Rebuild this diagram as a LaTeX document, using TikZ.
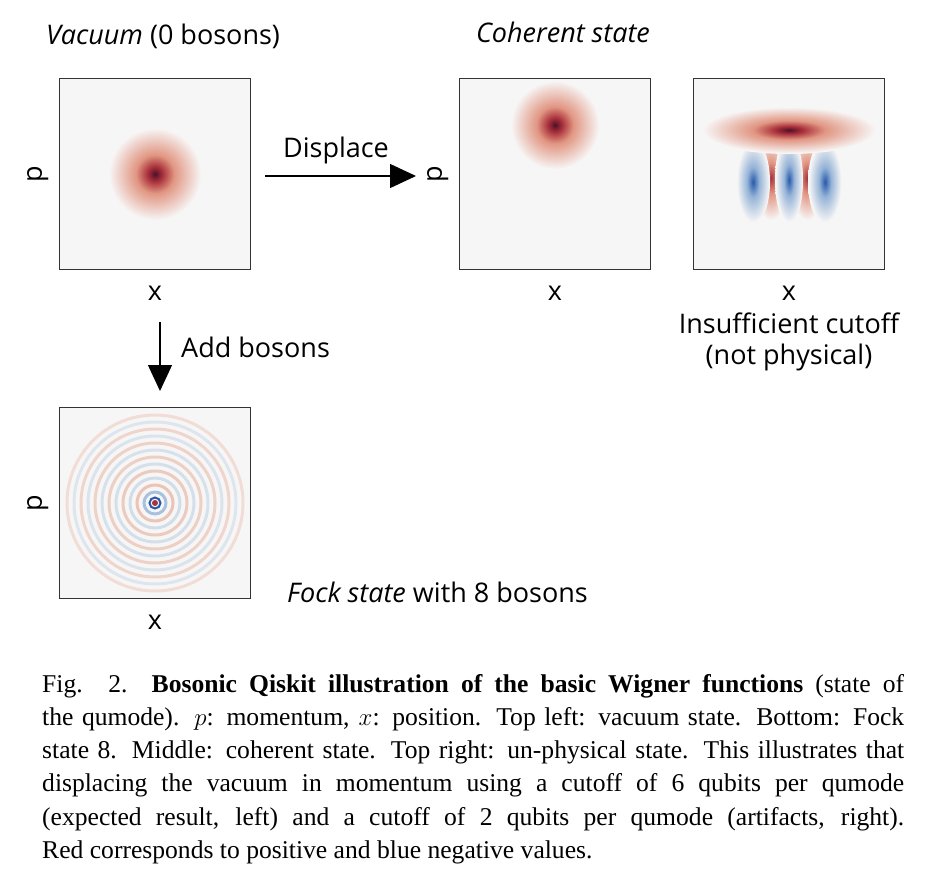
\documentclass[tikz,border=0pt]{standalone}
\usepackage{fontspec}
\setmainfont{Open Sans}
\newfontfamily\capfont{Liberation Serif}
\usetikzlibrary{arrows.meta}
\definecolor{dk}{RGB}{80,15,40}
\definecolor{rd}{RGB}{170,50,60}
\definecolor{pk}{RGB}{225,150,130}
\definecolor{bgc}{RGB}{247,246,246}
\definecolor{bl}{RGB}{40,90,170}
\definecolor{lbl}{RGB}{150,180,215}
\definecolor{lrd}{RGB}{230,175,155}
\definecolor{llbl}{RGB}{185,205,225}
\pgfdeclareradialshading{gauss}{\pgfpoint{0bp}{0bp}}{color(0bp)=(dk); color(4bp)=(rd); color(10bp)=(pk); color(24bp)=(bgc); color(50bp)=(bgc)}
\pgfdeclareradialshading{bgauss}{\pgfpoint{0bp}{0bp}}{color(0bp)=(bl); color(9bp)=(lbl); color(24bp)=(bgc); color(50bp)=(bgc)}
\pgfdeclareradialshading{rgauss}{\pgfpoint{0bp}{0bp}}{color(0bp)=(rd); color(9bp)=(pk); color(24bp)=(bgc); color(50bp)=(bgc)}
\tikzset{
  panel/.style={fill=bgc, minimum width=190pt, minimum height=190pt, inner sep=0pt},
  frame/.style={draw=black!80, line width=0.8pt},
  lab/.style={font=\fontsize{27}{32}\selectfont, inner sep=0pt},
  arr/.style={line width=1.3pt, -{Triangle[length=26pt,width=24pt]}}
}
\begin{document}
\begin{tikzpicture}[x=1pt,y=-1pt]
\useasboundingbox[fill=white] (0,0) rectangle (930,884);
\node[panel] (P1) at (155,174) {};
\node[panel] (P2) at (555,174) {};
\node[panel] (P3) at (789,174) {};
\node[panel] (P4) at (155,503) {};
\shade[shading=gauss] (155,174) circle (48);
\shade[shading=gauss] (555,125) circle (46);
\begin{scope}
\clip (P3.south west) rectangle (P3.north east);
\shade[shading=rgauss] (771,178) ellipse (18 and 44);
\shade[shading=rgauss] (807,178) ellipse (18 and 44);
\shade[shading=bgauss] (753,182) ellipse (17 and 42);
\shade[shading=bgauss] (825,182) ellipse (17 and 42);
\shade[shading=bgauss] (789,180) ellipse (14 and 44);
\shade[shading=gauss] (789,130) ellipse (90 and 24);
\end{scope}
\begin{scope}
\clip (P4.south west) rectangle (P4.north east);
\foreach \r/\c/\o in {88/lrd/0.35,81/llbl/0.4,74/lrd/0.45,67/llbl/0.45,60/lrd/0.5,53/llbl/0.5,46/lrd/0.55,39/llbl/0.55,32/lrd/0.6,25/llbl/0.6,18/lrd/0.7,11/lbl/0.8}
  \draw[\c, line width=3pt, opacity=\o] (155,503) circle (\r);
\draw[bl, line width=2pt] (155,503) circle (5.5);
\fill[rd] (155,503) circle (3);
\end{scope}
\foreach \p in {P1,P2,P3,P4} \draw[frame] (\p.south west) rectangle (\p.north east);
\node[lab, anchor=base] (t1) at (163,44) {\textit{Vacuum} (0 bosons)};
\node[lab, anchor=base] (t2) at (563,42) {\textit{Coherent state}};
\foreach \p in {P1,P2,P4}{
  \node[lab, rotate=90] at ([xshift=-22pt]\p.west) {p};
  \node[lab] at ([yshift=-24pt]\p.south) {x};
}
\node[lab] at ([yshift=-24pt]P3.south) {x};
\node[lab] (ic1) at (789,323) {Insufficient cutoff};
\node[lab] (ic2) at (789,357) {(not physical)};
\coordinate (a1) at (265,176);
\coordinate (a2) at (416,176);
\draw[arr] (a1) -- (a2);
\node[lab] (disp) at (336,150) {Displace};
\coordinate (b1) at (160,322);
\coordinate (b2) at (160,391);
\draw[arr] (b1) -- (b2);
\node[lab, anchor=west] (add) at (181,347) {Add bosons};
\node[lab, anchor=west] (fock) at (287,592) {\textit{Fock state} with 8 bosons};
\node[anchor=north west, text width=862pt, align=justify, inner sep=0pt, font=\capfont\fontsize{25.6}{33.2}\selectfont] (cap) at (42,674)
{Fig. 2.\ \ \textbf{Bosonic Qiskit illustration of the basic Wigner functions} (state of\linebreak the qumode). $p$: momentum, $x$: position. Top left: vacuum state. Bottom: Fock\linebreak state 8. Middle: coherent state. Top right: un-physical state. This illustrates that\linebreak displacing the vacuum in momentum using a cutoff of 6 qubits per qumode\linebreak (expected result, left) and a cutoff of 2 qubits per qumode (artifacts, right).\linebreak Red corresponds to positive and blue negative values.};
\end{tikzpicture}
\end{document}
